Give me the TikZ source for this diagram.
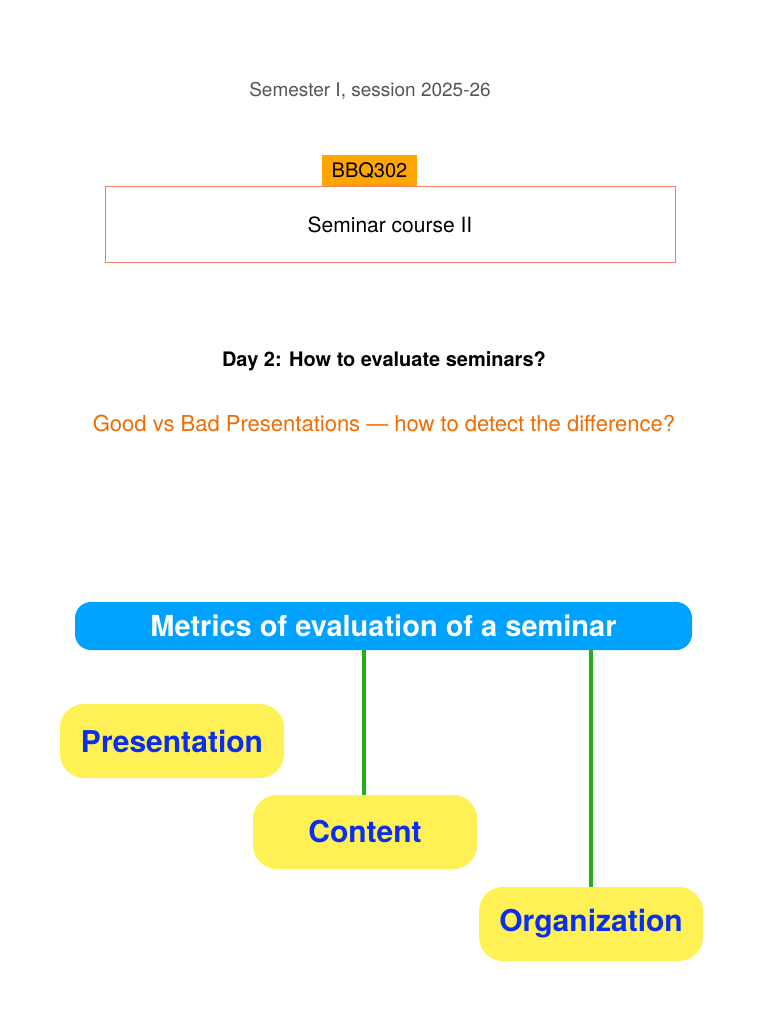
\documentclass[tikz,border=0pt]{standalone}
\usepackage{fontspec}
\setmainfont{TeX Gyre Heros}
\definecolor{gr}{HTML}{555555}
\definecolor{orb}{HTML}{FFA500}
\definecolor{redb}{HTML}{F07C6E}
\definecolor{ort}{HTML}{F26B00}
\definecolor{bl}{HTML}{00A2FF}
\definecolor{yl}{HTML}{FFF055}
\definecolor{bt}{HTML}{0A2EF0}
\definecolor{gn}{HTML}{22B014}
\begin{document}
\begin{tikzpicture}[x=1pt,y=-1pt,
  leaf/.style={fill=yl,rounded corners=24pt,minimum width=224pt,minimum height=74pt,text=bt,font=\fontsize{30}{36}\selectfont\bfseries,inner sep=0pt},
  link/.style={gn,line width=3.5pt}]
\useasboundingbox (0,0) rectangle (768,1024);
\node[text=gr,font=\fontsize{19}{23}\selectfont] (sem) at (370,91) {Semester I, session 2025-26};
\node[fill=orb,minimum width=95pt,minimum height=31pt,inner sep=0pt,font=\fontsize{20}{24}\selectfont] (code) at (369.5,170.5) {BBQ302};
\node[draw=redb,line width=1pt,minimum width=570pt,minimum height=75pt,inner sep=0pt,font=\fontsize{21}{25}\selectfont] (title) at (390,224.5) {Seminar course II};
\node[font=\fontsize{20}{24}\selectfont\bfseries] (day) at (384,361) {Day 2: How to evaluate seminars?};
\node[text=ort,font=\fontsize{22}{26}\selectfont] (q) at (384,423) {Good vs Bad Presentations — how to detect the difference?};
\node[fill=bl,rounded corners=16pt,minimum width=617pt,minimum height=48pt,inner sep=0pt,text=white,font=\fontsize{29}{35}\selectfont\bfseries] (m) at (383.5,626) {Metrics of evaluation of a seminar};
\node[leaf] (p) at (172,741) {Presentation};
\node[leaf] (c) at (365,832) {Content};
\node[leaf] (o) at (591,924) {Organization};
\draw[link] (p.north -| 172,650) -- (p.north);
\draw[link] (364,650) coordinate (c0) -- (c0 |- c.north);
\draw[link] (591,650) coordinate (o0) -- (o0 |- o.north);
\end{tikzpicture}
\end{document}
